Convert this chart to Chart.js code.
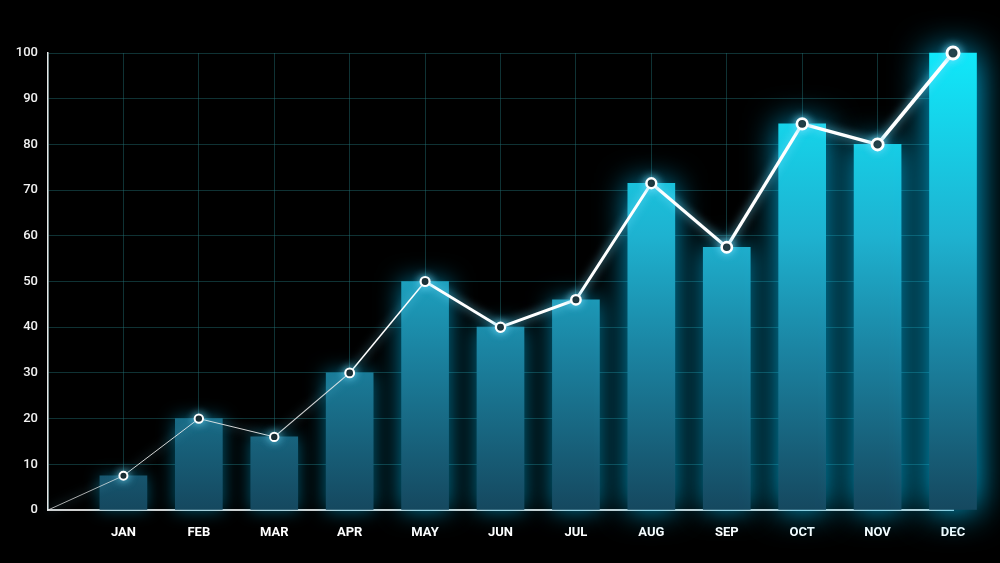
<!DOCTYPE html>
<html>
<head>
<meta charset="utf-8">
<script src="https://cdn.jsdelivr.net/npm/chart.js@4/dist/chart.umd.min.js"></script>
<style>
  html, body { margin: 0; padding: 0; background: #000; }
  #wrap { width: 1000px; height: 563px; position: relative; background: #000; }
  canvas { display: block; }
</style>
</head>
<body>
<div id="wrap"><canvas id="c" width="1000" height="563"></canvas></div>
<script>
// ---- data ----
const months = ['JAN', 'FEB', 'MAR', 'APR', 'MAY', 'JUN', 'JUL', 'AUG', 'SEP', 'OCT', 'NOV', 'DEC'];
const barValues = [7.5, 20, 16, 30, 50, 40, 46, 71.5, 57.5, 84.5, 80, 100];
const lineStart = 0;
const lineValues = [7.5, 20, 16, 30, 50, 40, 46, 71.5, 57.5, 84.5, 80, 100];
const yTicks = [0, 10, 20, 30, 40, 50, 60, 70, 80, 90, 100];

// ---- build library data ----
const barData = months.map((m, i) => ({ x: i + 1, y: barValues[i] }));
const lineData = [{ x: 0, y: lineStart }].concat(months.map((m, i) => ({ x: i + 1, y: lineValues[i] })));

const gridColor = 'rgba(35,120,125,0.42)';

function barGradient(ctx) {
  const chart = ctx.chart;
  const area = chart.chartArea;
  if (!area) return '#1a9cbc';
  const g = chart.ctx.createLinearGradient(0, area.bottom, 0, area.top);
  g.addColorStop(0, 'rgb(21,72,95)');
  g.addColorStop(0.35, 'rgb(27,132,162)');
  g.addColorStop(0.6, 'rgb(30,178,208)');
  g.addColorStop(1, 'rgb(16,232,250)');
  return g;
}

const glowPlugin = {
  id: 'glow',
  beforeDatasetDraw(chart, args) {
    const ds = chart.data.datasets[args.index];
    const ctx = chart.ctx;
    if (ds.type === 'bar') {
      const meta = args.meta;
      meta.data.forEach((el, i) => {
        const v = ds.data[i].y;
        const a = 0.35 + 0.6 * (v / 100);
        ctx.save();
        ctx.shadowColor = 'rgba(0,200,255,' + a.toFixed(2) + ')';
        ctx.shadowBlur = 14 + 22 * (v / 100);
        el.draw(ctx);
        ctx.restore();
      });
      return false;
    } else {
      ctx.save();
      ctx.shadowColor = 'rgba(120,225,255,0.85)';
      ctx.shadowBlur = 10;
    }
  },
  afterDatasetDraw(chart, args) {
    const ds = chart.data.datasets[args.index];
    if (ds.type !== 'bar') chart.ctx.restore();
  }
};

const segWidths = [0.8, 1, 1, 1.2, 1.5, 2.8, 3, 3, 3.2, 3.3, 3.5, 3.8];
const ptRadius = [0, 4, 4.2, 4.2, 4.4, 4.5, 4.6, 4.7, 4.9, 5.1, 5.3, 5.6, 6];
const ptBorder = [0, 2, 2, 2, 2.1, 2.2, 2.3, 2.4, 2.5, 2.6, 2.7, 2.8, 3];

new Chart(document.getElementById('c'), {
  type: 'bar',
  data: {
    datasets: [
      {
        type: 'line',
        data: lineData,
        order: 0,
        borderColor: '#ffffff',
        borderWidth: 2,
        segment: {
          borderWidth: c => segWidths[c.p0DataIndex],
          borderColor: c => c.p0DataIndex < 4 ? 'rgba(235,235,235,0.9)' : '#ffffff'
        },
        pointRadius: c => ptRadius[c.dataIndex],
        pointBorderWidth: c => ptBorder[c.dataIndex],
        pointBackgroundColor: '#000000',
        pointBorderColor: '#ffffff',
        tension: 0,
        fill: false,
        clip: false
      },
      {
        type: 'bar',
        data: barData,
        order: 1,
        backgroundColor: barGradient,
        borderWidth: 0,
        barThickness: 47,
        clip: false
      }
    ]
  },
  options: {
    responsive: false,
    animation: false,
    events: [],
    layout: { padding: { top: 53, right: 47, left: 0, bottom: 0 } },
    plugins: {
      legend: { display: false },
      tooltip: { enabled: false }
    },
    scales: {
      x: {
        type: 'linear',
        min: 0,
        max: 12,
        offset: false,
        afterFit: s => { s.height = 53; },
        ticks: {
          stepSize: 1,
          autoSkip: false,
          maxRotation: 0,
          padding: 15,
          color: '#ffffff',
          font: { family: 'Roboto', size: 13, weight: 'bold' },
          callback: v => (v >= 1 && v <= months.length) ? months[v - 1] : ''
        },
        grid: { color: gridColor, lineWidth: 1, drawTicks: false, offset: false },
        border: { color: '#d0d0d0', width: 2 }
      },
      y: {
        min: 0,
        max: 100,
        afterFit: s => { s.width = 48; },
        afterBuildTicks: s => { s.ticks = yTicks.map(v => ({ value: v })); },
        ticks: {
          padding: 10,
          color: '#f2f2f2',
          font: { family: 'Roboto', size: 13, weight: '500' }
        },
        grid: { color: gridColor, lineWidth: 1, drawTicks: false },
        border: { color: '#e6e6e6', width: 1.5 }
      }
    }
  },
  plugins: [glowPlugin]
});
</script>
</body>
</html>
